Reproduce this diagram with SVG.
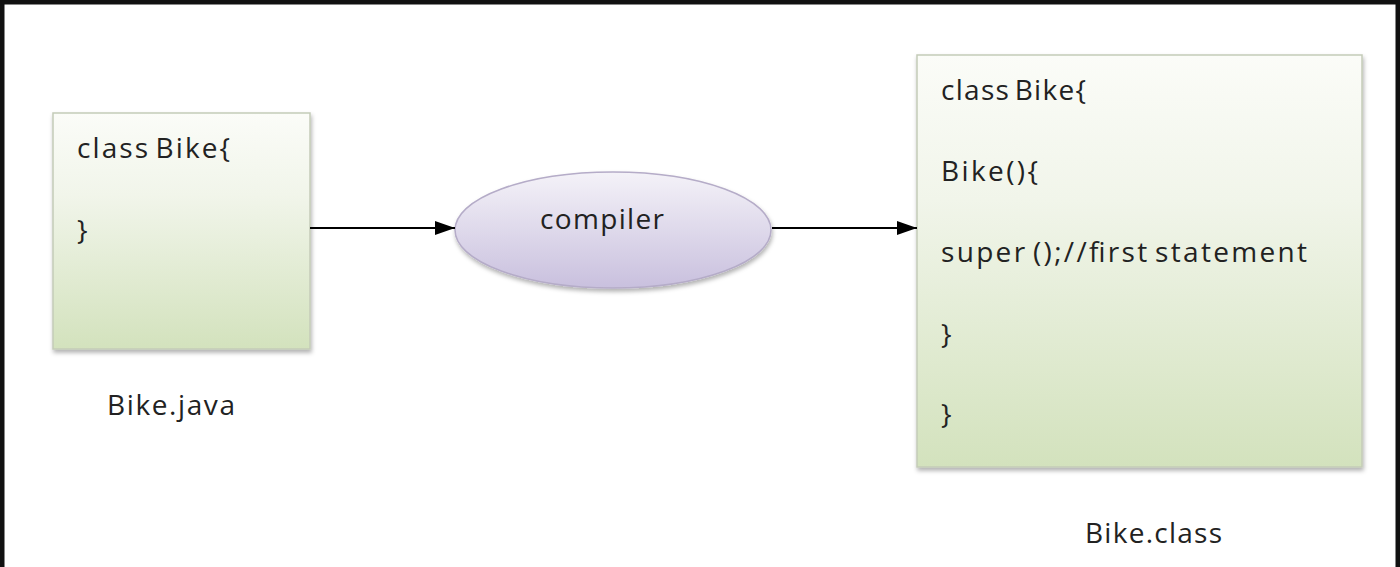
<svg xmlns="http://www.w3.org/2000/svg" width="1400" height="567" viewBox="0 0 1400 567">
<defs>
<linearGradient id="gGreen" x1="0" y1="0" x2="0" y2="1">
<stop offset="0" stop-color="#fbfcf8"/>
<stop offset="0.35" stop-color="#f1f5ea"/>
<stop offset="1" stop-color="#d3e2bd"/>
</linearGradient>
<linearGradient id="gPurple" x1="0" y1="0" x2="0" y2="1">
<stop offset="0" stop-color="#f4f2f8"/>
<stop offset="1" stop-color="#c9c0de"/>
</linearGradient>
<filter id="sh" x="-10%" y="-10%" width="120%" height="130%">
<feDropShadow dx="1" dy="3" stdDeviation="2" flood-color="#000" flood-opacity="0.3"/>
</filter>
<marker id="ah" viewBox="0 0 20 14" refX="20" refY="7" markerWidth="20" markerHeight="14" orient="auto" markerUnits="userSpaceOnUse">
<path d="M0,0 L20,7 L0,14 Z" fill="#000"/>
</marker>
</defs>
<style>
.t{font-family:"Open Sans","Liberation Sans",Arial,sans-serif;font-size:28px;fill:#222;word-spacing:-4px;}
.box{stroke:#c4cbb8;stroke-width:1.5;fill:url(#gGreen);filter:url(#sh);}
.conn{stroke:#000;stroke-width:2;fill:none;marker-end:url(#ah);}
</style>
<rect x="0" y="0" width="1400" height="567" fill="#fff"/>
<path d="M2,567 V2 H1398 V567" fill="none" stroke="#111" stroke-width="5"/>
<g id="bike-java">
<rect class="box" x="53" y="113" width="257" height="236"/>
<text class="t" x="77" y="158" textLength="153" lengthAdjust="spacing">class Bike{</text>
<text class="t" x="77" y="240">}</text>
<text class="t" x="107" y="415" textLength="128" lengthAdjust="spacing">Bike.java</text>
</g>
<g id="compiler">
<ellipse cx="613" cy="230" rx="158" ry="58" fill="url(#gPurple)" stroke="#b5acc8" stroke-width="1.5" filter="url(#sh)"/>
<text class="t" x="540" y="229" textLength="124" lengthAdjust="spacing">compiler</text>
</g>
<g id="bike-class">
<rect class="box" x="917" y="55" width="445" height="412"/>
<text class="t" x="941" y="100" textLength="145" lengthAdjust="spacing">class Bike{</text>
<text class="t" x="941" y="181" textLength="97" lengthAdjust="spacing">Bike(){</text>
<text class="t" x="941" y="262" textLength="366" lengthAdjust="spacing">super ();//first statement</text>
<text class="t" x="941" y="344">}</text>
<text class="t" x="941" y="424">}</text>
<text class="t" x="1085" y="543" textLength="137" lengthAdjust="spacing">Bike.class</text>
</g>
<g id="connectors">
<line class="conn" x1="310" y1="228" x2="455" y2="228"/>
<line class="conn" x1="772" y1="228" x2="917" y2="228"/>
</g>
</svg>
